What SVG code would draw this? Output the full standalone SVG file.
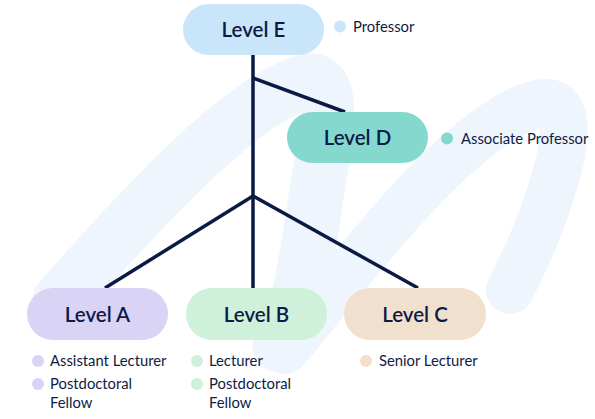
<svg xmlns="http://www.w3.org/2000/svg" width="595" height="419" viewBox="0 0 595 419">
<style>
.bg{fill:none;stroke:#EEF5FC;stroke-linecap:round;stroke-linejoin:round}
.nt{font-family:Lato,"Open Sans",sans-serif;font-size:20.5px;font-weight:600;fill:#0E1B45;text-anchor:middle}
.lt{font-family:Lato,"Open Sans",sans-serif;font-size:14.8px;fill:#0E1B45}
.conn{stroke:#0B1A45;stroke-width:3.5;fill:none;stroke-linecap:butt}
</style>
<rect width="595" height="419" fill="#FFFFFF"/>
<g id="background">
<path class="bg" stroke-width="55" d="M60,300 C140,210 240,100 305,82 C330,75 330,110 322,160 C310,230 305,300 280,345"/>
<path class="bg" stroke-width="48" d="M285,350 C360,260 440,150 520,110 C560,92 570,110 560,160 C545,220 525,260 510,290"/>
</g>
<g id="connectors">
<line class="conn" x1="253" y1="55" x2="253" y2="288"/>
<line class="conn" x1="253" y1="78" x2="345" y2="112"/>
<line class="conn" x1="253" y1="196" x2="105" y2="288"/>
<line class="conn" x1="253" y1="196" x2="418" y2="288"/>
</g>
<g id="levelE">
<rect x="183" y="4" width="141" height="51" rx="25.5" fill="#C9E5FA"/>
<text class="nt" x="253.5" y="37">Level E</text>
<circle cx="340" cy="26.5" r="6" fill="#C9E5FA"/>
<text class="lt" x="353" y="31.5">Professor</text>
</g>
<g id="levelD">
<rect x="287" y="112" width="141" height="51" rx="25.5" fill="#85D8CE"/>
<text class="nt" x="357.5" y="145">Level D</text>
<circle cx="447" cy="138.5" r="6" fill="#85D8CE"/>
<text class="lt" x="461" y="143.5">Associate Professor</text>
</g>
<g id="levelA">
<rect x="27" y="288" width="141" height="52" rx="26" fill="#D9D4F5"/>
<text class="nt" x="97.5" y="321.5">Level A</text>
<circle cx="38" cy="361" r="6" fill="#D9D4F5"/>
<text class="lt" x="50" y="366">Assistant Lecturer</text>
<circle cx="38" cy="384" r="6" fill="#D9D4F5"/>
<text class="lt" x="50" y="389">Postdoctoral</text>
<text class="lt" x="50" y="408">Fellow</text>
</g>
<g id="levelB">
<rect x="186" y="288" width="141" height="52" rx="26" fill="#CFF0DA"/>
<text class="nt" x="256.5" y="321.5">Level B</text>
<circle cx="197" cy="361" r="6" fill="#CFF0DA"/>
<text class="lt" x="209" y="366">Lecturer</text>
<circle cx="197" cy="384" r="6" fill="#CFF0DA"/>
<text class="lt" x="209" y="389">Postdoctoral</text>
<text class="lt" x="209" y="408">Fellow</text>
</g>
<g id="levelC">
<rect x="344" y="288" width="142" height="52" rx="26" fill="#F2E0CE"/>
<text class="nt" x="415" y="321.5">Level C</text>
<circle cx="366" cy="361" r="6" fill="#F2E0CE"/>
<text class="lt" x="379" y="366">Senior Lecturer</text>
</g>
</svg>
